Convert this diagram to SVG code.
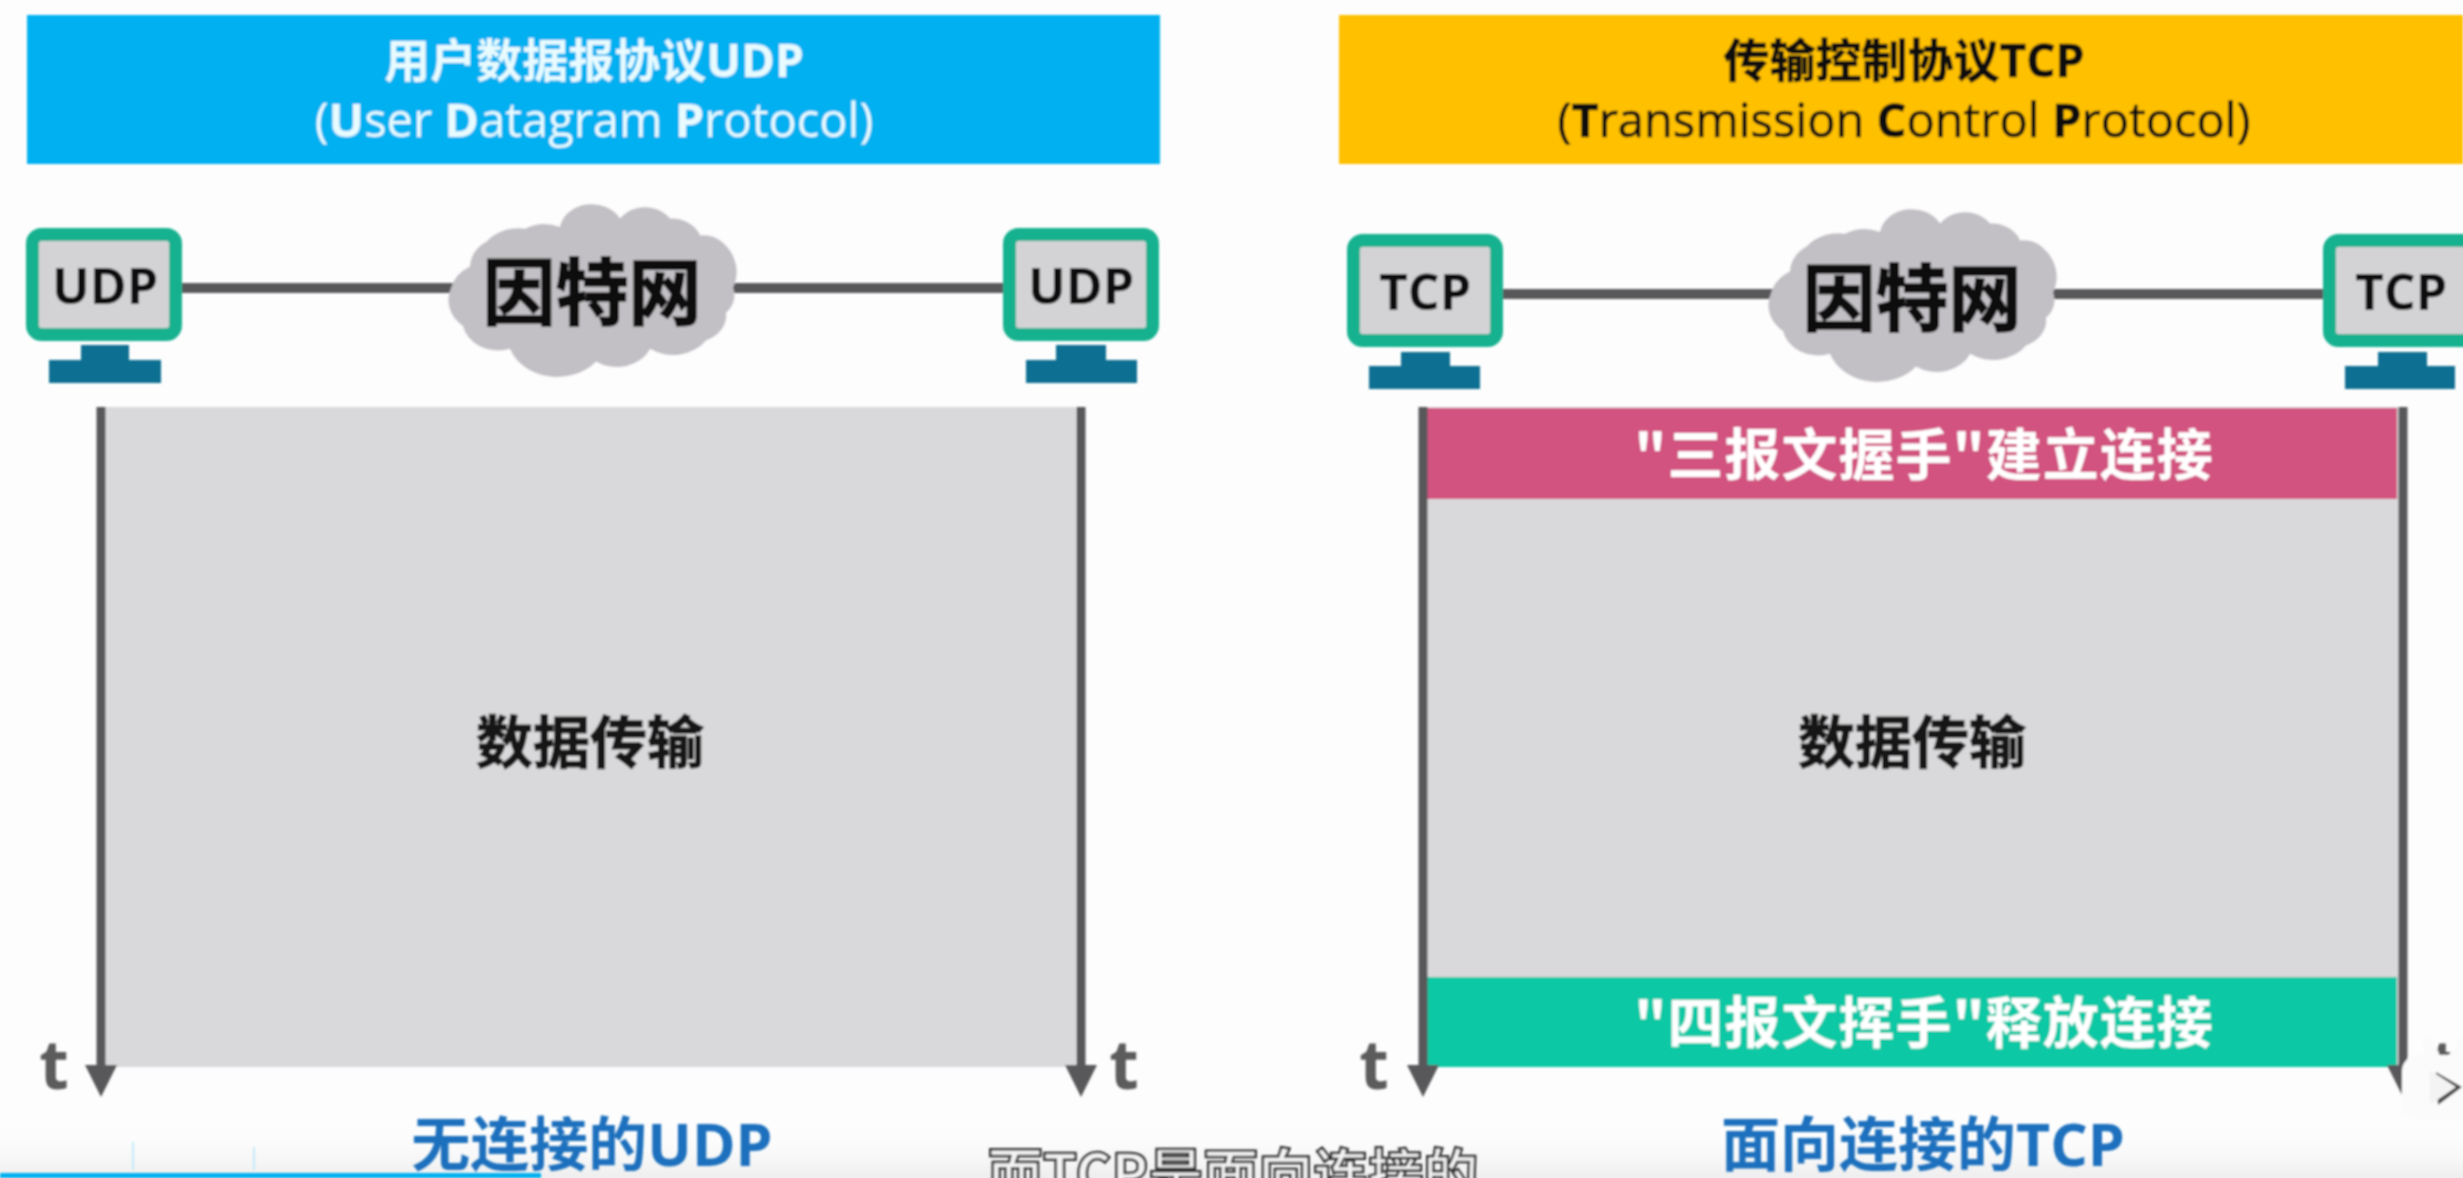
<svg xmlns="http://www.w3.org/2000/svg" width="2463" height="1178" viewBox="0 0 2463 1178">
<style>
text{font-family:"Noto Sans CJK SC","Open Sans",sans-serif;text-anchor:middle}
.lat{font-family:"Open Sans","Noto Sans CJK SC",sans-serif}
.title{font-size:46px;font-weight:700}
.sub{font-size:47px}
.sub tspan{font-weight:700}
.wt{fill:#e8fbff}
.bk{fill:#111;stroke:#111;stroke-width:.6}
.screen{fill:#d3d3d6;stroke:#17b18f;stroke-width:13}
.stand{fill:#0b6f92}
.mon{font-family:"Open Sans",sans-serif;font-size:50px;font-weight:700;fill:#0a0a0a}
.cloud{fill:#c2c0c4}
.net{font-size:73px;font-weight:700;fill:#0c0c0c;stroke:#0c0c0c;stroke-width:1.5}
.wire{stroke:#58585a;stroke-width:10;fill:none}
.axis{stroke:#58585a;stroke-width:9;fill:none;marker-end:url(#arrow)}
.tl{font-family:"Open Sans",sans-serif;font-size:68px;font-weight:700;fill:#5b5b5d}
.panel{fill:#d9d8da}
.data{font-size:57px;font-weight:700;fill:#151515;stroke:#151515;stroke-width:1}
.band{font-size:56px;font-weight:700;fill:#fff;letter-spacing:1px}
.out{font-size:59px;font-weight:700;fill:#1f70bd}
</style>
<defs>
<filter id="soft" x="-2%" y="-2%" width="104%" height="104%"><feGaussianBlur stdDeviation="0.9"/></filter>
<linearGradient id="foot" x1="0" y1="0" x2="0" y2="1"><stop offset="0" stop-color="#fff" stop-opacity="0"/><stop offset="1" stop-color="#eeeeee"/></linearGradient>
<marker id="arrow" markerUnits="userSpaceOnUse" markerWidth="33" markerHeight="32" refX="0" refY="16" orient="auto" viewBox="0 0 33 32"><path d="M0 0L32 16L0 32Z" fill="#58585a"/></marker>
<path id="cloudShape" d="M-142 -2A40 40 0 0 1 -123 -28A38 38 0 0 1 -106 -58A40 40 0 0 1 -68 -73A38 38 0 0 1 -33 -75A32 32 0 0 1 27 -85A30 30 0 0 1 77 -85A30 30 0 0 1 107 -65A26 26 0 0 1 129 -57A50 50 0 0 1 140 -3A30 30 0 0 1 133 27A32 32 0 0 1 113 60A40 40 0 0 1 57 70A36 36 0 0 1 3 85A50 50 0 0 1 -83 70A36 36 0 0 1 -130 43A40 40 0 0 1 -142 -2Z"/>
<g id="mark"><rect class="screen" x="-71.500" y="-49.500" width="143" height="100" rx="9"/></g>
</defs>
<rect width="2463" height="1178" fill="#fdfdfd"/>
<rect y="1120" width="2463" height="58" fill="url(#foot)"/>
<g filter="url(#soft)">
<g id="udp-header"><rect x="27" y="15" width="1133" height="149" fill="#00b0f0"/>
<text class="title wt" x="594" y="77">用户数据报协议<tspan class="lat">UDP</tspan></text>
<text class="sub wt lat" x="594" y="137">(<tspan>U</tspan>ser <tspan>D</tspan>atagram <tspan>P</tspan>rotocol)</text></g>
<g id="tcp-header"><rect x="1339" y="15" width="1124" height="149" fill="#ffc000"/>
<text class="title bk" x="1904" y="77">传输控制协议<tspan class="lat">TCP</tspan></text>
<text class="sub bk lat" x="1904" y="137">(<tspan>T</tspan>ransmission <tspan>C</tspan>ontrol <tspan>P</tspan>rotocol)</text></g>

<g id="udp-panel"><rect class="panel" x="104" y="407" width="972" height="660"/>
<text class="data" x="590" y="763">数据传输</text></g>
<g id="tcp-panel"><rect class="panel" x="1425" y="407" width="975" height="660"/>
<text class="data" x="1912" y="763">数据传输</text></g>
<g id="tcp-open"><rect x="1427" y="408" width="970" height="91" fill="#d2527f"/>
<text class="band" x="1924" y="475">"三报文握手"建立连接</text></g>
<g id="tcp-close"><rect x="1427" y="977" width="970" height="90" fill="#08c8a4"/>
<text class="band" x="1924" y="1043">"四报文挥手"释放连接</text></g>

<g id="connectors">
<path class="wire" d="M182 288H460M730 288H1004"/>
<path class="wire" d="M1501 294H1780M2050 294H2324"/>
<path class="axis" d="M101 407V1065"/>
<path class="axis" d="M1081 407V1065"/>
<path class="axis" d="M1423 407V1065"/>
<path class="axis" d="M2403 407V1065"/>
</g>

<g id="udp-host-left"><use href="#mark" x="104" y="284"/><path class="stand" d="M81 345H129V360H161V383H49V360H81Z"/><text class="mon" x="105" y="304">UDP</text></g>
<g id="udp-host-right"><use href="#mark" x="1081" y="284"/><path class="stand" d="M1056 345H1106V360H1137V383H1026V360H1056Z"/><text class="mon" x="1081" y="304">UDP</text></g>
<g id="tcp-host-left"><use href="#mark" x="1425" y="290"/><path class="stand" d="M1401 352H1450V366H1480V389H1369V366H1401Z"/><text class="mon" x="1425" y="310">TCP</text></g>
<g id="tcp-host-right"><use href="#mark" x="2401" y="290"/><path class="stand" d="M2378 352H2427V366H2455V389H2345V366H2378Z"/><text class="mon" x="2401" y="310">TCP</text></g>

<g id="internet-udp"><use href="#cloudShape" class="cloud" transform="translate(593 290) scale(1 .84)"/><text class="net" x="592" y="319">因特网</text></g>
<g id="internet-tcp"><use href="#cloudShape" class="cloud" transform="translate(1913 295) scale(1 .84)"/><text class="net" x="1912" y="325">因特网</text></g>

<g id="time-labels">
<text class="tl" x="54" y="1089">t</text>
<text class="tl" x="1124" y="1089">t</text>
<text class="tl" x="1374" y="1089">t</text>
<text class="tl" x="2444" y="1089">t</text>
</g>
<text class="out" x="592" y="1166">无连接的<tspan class="lat">UDP</tspan></text>
<text class="out" x="1923" y="1166">面向连接的<tspan class="lat">TCP</tspan></text>
<text x="1233" y="1194" font-size="55" font-weight="700" fill="#f4f4f4" stroke="#333" stroke-width="2.500">而TCP是面向连接的</text>
<g id="player-badge"><path d="M2422 1040L2432 1036L2440 1056H2426ZM2462 1036L2470 1040L2458 1056H2448Z" fill="#fbfbfb"/><rect x="2402" y="1055" width="90" height="65" rx="16" fill="#fbfbfb"/><path d="M2436 1072L2462 1087L2438 1105Z" fill="#444"/><path d="M2430 1072Q2430 1070 2433 1072L2456 1087L2433 1103Q2430 1105 2430 1102Z" fill="#f3f3f3"/></g>
<rect x="0" y="1173" width="541" height="5" fill="#00b0f0"/>
<path d="M133 1142V1170M254 1147V1170" stroke="#c5eafa" stroke-width="2"/>
</g>
</svg>
